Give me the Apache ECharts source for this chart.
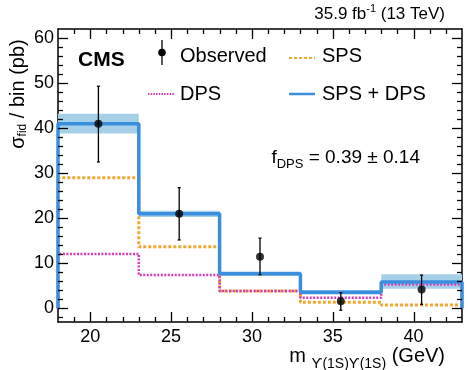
<!DOCTYPE html>
<html><head><meta charset="utf-8">
<script src="https://cdn.jsdelivr.net/npm/echarts@6/dist/echarts.min.js"></script>
<style>html,body{margin:0;padding:0;background:#fff}#c{width:474px;height:370px}</style>
</head><body><div id="c"></div>
<script>
// ---- data ----
const binEdges = [18, 23, 28, 33, 38, 43];
const binCenters = [20.5, 25.5, 30.5, 35.5, 40.5];
const observed = [41, 21, 11.5, 1.6, 4.2];
const obsErrLow = [32.5, 15.2, 7.5, -0.4, 0.9];
const obsErrHigh = [49.3, 26.8, 15.6, 3.5, 7.4];
const sps = [29, 13.7, 3.9, 1.4, 0.75];
const dps = [12.1, 7.4, 3.9, 2.4, 5.3];
const total = [41, 21, 7.7, 3.6, 5.9];
const totalBandLow = [38.8, 20.3, 7.2, 3.1, 4.4];
const totalBandHigh = [43.2, 21.7, 8.2, 4.1, 7.6];

// ---- tick positions ----
const xMajorTicks = [20, 25, 30, 35, 40];
const xMinorTicks = [19, 21, 22, 23, 24, 26, 27, 28, 29, 31, 32, 33, 34, 36, 37, 38, 39, 41, 42];
const yMajorTicks = [0, 10, 20, 30, 40, 50, 60];
const yMinorTicks = [-2, 2, 4, 6, 8, 12, 14, 16, 18, 22, 24, 26, 28, 32, 34, 36, 38, 42, 44, 46, 48, 52, 54, 56, 58];

const FONT = '"Liberation Sans", Arial, Helvetica, "DejaVu Sans", sans-serif';
const X_MIN = 18, X_MAX = 43, Y_MIN = -3, Y_MAX = 62;

function stepData(vals) {
  const d = [[binEdges[0], 0]];
  vals.forEach((v, i) => { d.push([binEdges[i], v]); d.push([binEdges[i + 1], v]); });
  d.push([binEdges[binEdges.length - 1], 0]);
  return d;
}
const bandData = totalBandLow.map((lo, i) => [binEdges[i], binEdges[i + 1], lo, totalBandHigh[i]]);
const errData = binCenters.map((x, i) => [x, obsErrLow[i], obsErrHigh[i]]);
const obsData = binCenters.map((x, i) => [x, observed[i]]);

const chart = echarts.init(document.getElementById('c'));

function mkAxis(kind, pos, showLabel) {
  const isX = kind === 'x';
  return {
    type: 'value',
    min: isX ? X_MIN : Y_MIN,
    max: isX ? X_MAX : Y_MAX,
    position: pos,
    axisLine: {show: true, onZero: false, lineStyle: {color: '#000', width: 1.5}},
    axisTick: {show: false},
    splitLine: {show: false},
    axisLabel: {show: showLabel, fontFamily: FONT, fontSize: 18, color: '#000',
      margin: isX ? 6 : 4, showMinLabel: false, showMaxLabel: false}
  };
}
function lineSt() { return {stroke: '#000', lineWidth: 1.3}; }

chart.setOption({
  animation: false,
  backgroundColor: '#fff',
  grid: {left: 58, right: 12, top: 29, bottom: 48},
  xAxis: [mkAxis('x', 'bottom', true), mkAxis('x', 'top', false)],
  yAxis: [mkAxis('y', 'left', true), mkAxis('y', 'right', false)],
  series: [
    {
      name: 'band', type: 'custom', z: 1,
      renderItem: (params, api) => {
        const p1 = api.coord([api.value(0), api.value(3)]);
        const p2 = api.coord([api.value(1), api.value(2)]);
        return {type: 'rect', shape: {x: p1[0], y: p1[1], width: p2[0] - p1[0], height: p2[1] - p1[1]},
          style: {fill: '#a5d0e8'}};
      },
      encode: {x: [0, 1], y: [2, 3]},
      data: bandData
    },
    {
      name: 'SPS', type: 'line', z: 3, showSymbol: false, symbol: 'none', clip: true,
      lineStyle: {color: '#f0a830', width: 3, type: [3, 2]},
      data: stepData(sps)
    },
    {
      name: 'DPS', type: 'line', z: 4, showSymbol: false, symbol: 'none', clip: true,
      lineStyle: {color: '#d43cb8', width: 2.5, type: [2, 1.5]},
      data: stepData(dps)
    },
    {
      name: 'SPS + DPS', type: 'line', z: 5, showSymbol: false, symbol: 'none', clip: true,
      lineStyle: {color: '#3a8ede', width: 3.5},
      data: stepData(total)
    },
    {
      name: 'err', type: 'custom', z: 6,
      renderItem: (params, api) => {
        const x = api.value(0);
        const lo = api.coord([x, api.value(1)]);
        const hi = api.coord([x, api.value(2)]);
        const c = 1.5;
        return {type: 'group', children: [
          {type: 'line', shape: {x1: lo[0], y1: lo[1], x2: hi[0], y2: hi[1]}, style: lineSt()},
          {type: 'line', shape: {x1: lo[0] - c, y1: lo[1], x2: lo[0] + c, y2: lo[1]}, style: lineSt()},
          {type: 'line', shape: {x1: hi[0] - c, y1: hi[1], x2: hi[0] + c, y2: hi[1]}, style: lineSt()}
        ]};
      },
      encode: {x: 0, y: [1, 2]},
      data: errData
    },
    {
      name: 'Observed', type: 'scatter', z: 7, symbol: 'circle', symbolSize: 8,
      itemStyle: {color: '#000'},
      data: obsData
    }
  ]
});

// ---- texts / legend ----
const graphics = [
  {type: 'text', x: 445, y: 14, style: {
    text: '{a|35.9 fb}{s|-1}{a| (13 TeV)}', align: 'right', verticalAlign: 'middle',
    rich: {a: {fontFamily: FONT, fontSize: 17, fill: '#000'},
           s: {fontFamily: FONT, fontSize: 11, fill: '#000', padding: [0, 0, 10, 0]}}}},
  {type: 'text', x: 78, y: 60, z: 20, style: {text: 'CMS', fontFamily: FONT, fontSize: 21, fontWeight: 'bold',
    fill: '#000', align: 'left', verticalAlign: 'middle'}},
  {type: 'line', z: 20, shape: {x1: 162, y1: 40, x2: 162, y2: 65}, style: {stroke: '#000', lineWidth: 1.3}},
  {type: 'circle', z: 20, shape: {cx: 162, cy: 52.5, r: 3.8}, style: {fill: '#000'}},
  {type: 'text', x: 180, y: 56, z: 20, style: {text: 'Observed', fontFamily: FONT, fontSize: 20, fill: '#000',
    align: 'left', verticalAlign: 'middle'}},
  {type: 'line', z: 20, shape: {x1: 289, y1: 58, x2: 315, y2: 58}, style: {stroke: '#f0a830', lineWidth: 2, lineDash: [3, 2]}},
  {type: 'text', x: 322, y: 56, z: 20, style: {text: 'SPS', fontFamily: FONT, fontSize: 20, fill: '#000',
    align: 'left', verticalAlign: 'middle'}},
  {type: 'line', z: 20, shape: {x1: 148, y1: 94, x2: 174, y2: 94}, style: {stroke: '#d43cb8', lineWidth: 2, lineDash: [1.5, 1.2]}},
  {type: 'text', x: 180, y: 94, z: 20, style: {text: 'DPS', fontFamily: FONT, fontSize: 20, fill: '#000',
    align: 'left', verticalAlign: 'middle'}},
  {type: 'line', z: 20, shape: {x1: 289, y1: 94, x2: 315, y2: 94}, style: {stroke: '#3a8ede', lineWidth: 2.5}},
  {type: 'text', x: 322, y: 94, z: 20, style: {text: 'SPS + DPS', fontFamily: FONT, fontSize: 20, fill: '#000',
    align: 'left', verticalAlign: 'middle'}},
  {type: 'text', x: 420, y: 158, z: 20, style: {
    text: '{a|f}{s|DPS}{a| = 0.39 ± 0.14}', align: 'right', verticalAlign: 'middle',
    rich: {a: {fontFamily: FONT, fontSize: 19, fill: '#000'},
           s: {fontFamily: FONT, fontSize: 13, fill: '#000', padding: [12, 0, 0, 0]}}}},
  {type: 'text', x: 18, y: 94, rotation: Math.PI / 2, z: 20, style: {
    text: '{a|σ}{s|fid}{a| / bin (pb)}', align: 'center', verticalAlign: 'middle',
    rich: {a: {fontFamily: FONT, fontSize: 20, fill: '#000'},
           s: {fontFamily: FONT, fontSize: 12, fill: '#000', padding: [10, 0, 0, 0]}}}},
  {type: 'text', x: 445, y: 356, z: 20, style: {
    text: '{a|m }{s|ϒ(1S)ϒ(1S)}{a| (GeV)}', align: 'right', verticalAlign: 'middle',
    rich: {a: {fontFamily: FONT, fontSize: 20, fill: '#000'},
           s: {fontFamily: FONT, fontSize: 14, fill: '#000', padding: [16, 0, 0, 0]}}}}
];

// ---- axis ticks placed through the chart's own scales ----
const toPx = (x, y) => chart.convertToPixel({gridIndex: 0}, [x, y]);
const topLeft = toPx(X_MIN, Y_MAX);
const botRight = toPx(X_MAX, Y_MIN);
function addTick(x1, y1, x2, y2) {
  graphics.push({type: 'line', z: 30, silent: true, shape: {x1: x1, y1: y1, x2: x2, y2: y2}, style: lineSt()});
}
function xTick(v, len) {
  const px = Math.round(toPx(v, 0)[0]) + 0.5;
  addTick(px, botRight[1], px, botRight[1] - len);
  addTick(px, topLeft[1], px, topLeft[1] + len);
}
function yTick(v, len) {
  const py = Math.round(toPx(X_MIN, v)[1]) + 0.5;
  addTick(topLeft[0], py, topLeft[0] + len, py);
  addTick(botRight[0], py, botRight[0] - len, py);
}
xMajorTicks.forEach(v => xTick(v, 10));
xMinorTicks.forEach(v => xTick(v, 5));
yMajorTicks.forEach(v => yTick(v, 10));
yMinorTicks.forEach(v => yTick(v, 5));

chart.setOption({graphic: graphics});
</script>
</body></html>
